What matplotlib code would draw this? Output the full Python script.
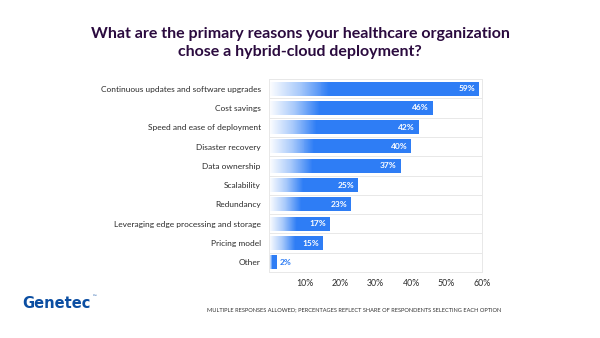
import matplotlib
matplotlib.use("Agg")
import matplotlib.pyplot as plt
import numpy as np
from matplotlib.colors import LinearSegmentedColormap

categories = ["Continuous updates and software upgrades", "Cost savings",
              "Speed and ease of deployment", "Disaster recovery", "Data ownership",
              "Scalability", "Redundancy", "Leveraging edge processing and storage",
              "Pricing model", "Other"]
values = [59, 46, 42, 40, 37, 25, 23, 17, 15, 2]
xticks = [10, 20, 30, 40, 50, 60]
xtick_labels = ["10%", "20%", "30%", "40%", "50%", "60%"]

plt.rcParams['font.family'] = ['Lato', 'DejaVu Sans']

BLUE = "#2E7DF5"
GRID = "#E8E8E8"
fig = plt.figure(figsize=(6, 3.38), dpi=100)
fig.patch.set_facecolor("white")
ax = fig.add_axes([269/600, 1-272/338, (482-269)/600, (272-79)/338])

cmap = LinearSegmentedColormap.from_list("g", ["#FFFFFF", "#A9CAFB", BLUE], N=512)
h = 0.72
n = len(categories)
for i, (c, v) in enumerate(zip(categories, values)):
    y = n - 1 - i
    ramp = min(4 + 0.22 * v, 0.5 * v)  # width of fade-in, in data units
    npx = max(int(v * 3.6), 2)
    xs = (np.arange(npx) + 0.5) / npx * v
    g = np.clip(xs / ramp, 0, 1)[None, :]
    ax.imshow(g, cmap=cmap, vmin=0, vmax=1, aspect="auto",
              extent=[0, v, y - h/2, y + h/2], interpolation="none", zorder=2)
    if v >= 10:
        ax.text(v - 1.0, y, f"{v}%", ha="right", va="center", color="white",
                fontsize=6, fontweight="bold", zorder=3)
    else:
        ax.text(v + 1.0, y, f"{v}%", ha="left", va="center", color=BLUE,
                fontsize=6, fontweight="bold", zorder=3)

ax.set_xlim(0, 60)
ax.set_ylim(-0.5, n - 0.5)
ax.set_yticks(range(n))
ax.set_yticklabels(categories[::-1], fontsize=6.0, color="#2B2B2B")
ax.set_xticks(xticks)
ax.set_xticklabels(xtick_labels, fontsize=6.3, color="#2B2B2B")
ax.set_xticks(np.arange(0, 61, 10), minor=True)
ax.set_yticks(np.arange(-0.5, n, 1.0), minor=True)
ax.tick_params(which="both", length=0)
ax.tick_params(axis="y", pad=6)
ax.tick_params(axis="x", pad=5)
ax.grid(which="minor", color=GRID, linewidth=0.7, zorder=0)
ax.set_axisbelow(True)
for s in ax.spines.values():
    s.set_color(GRID)
    s.set_linewidth(0.7)

fig.text(0.5, 1-43/338, "What are the primary reasons your healthcare organization\nchose a hybrid-cloud deployment?",
         ha="center", va="center", fontsize=11.5, fontweight="bold", color="#2B0B3F",
         linespacing=1.45)

fig.text(22/600, 1-303/338, "Genetec", ha="left", va="center", fontsize=10.5,
         fontweight="bold", family="DejaVu Sans", color="#0B4EA2")
fig.text(93/600, 1-297/338, "™", ha="left", va="center", fontsize=3.5, color="#0B4EA2")

fig.text(501/600, 1-310/338,
         "MULTIPLE RESPONSES ALLOWED; PERCENTAGES REFLECT SHARE OF RESPONDENTS SELECTING EACH OPTION",
         ha="right", va="center", fontsize=4.05, color="#333333")

fig.savefig("out.png", dpi=100)
